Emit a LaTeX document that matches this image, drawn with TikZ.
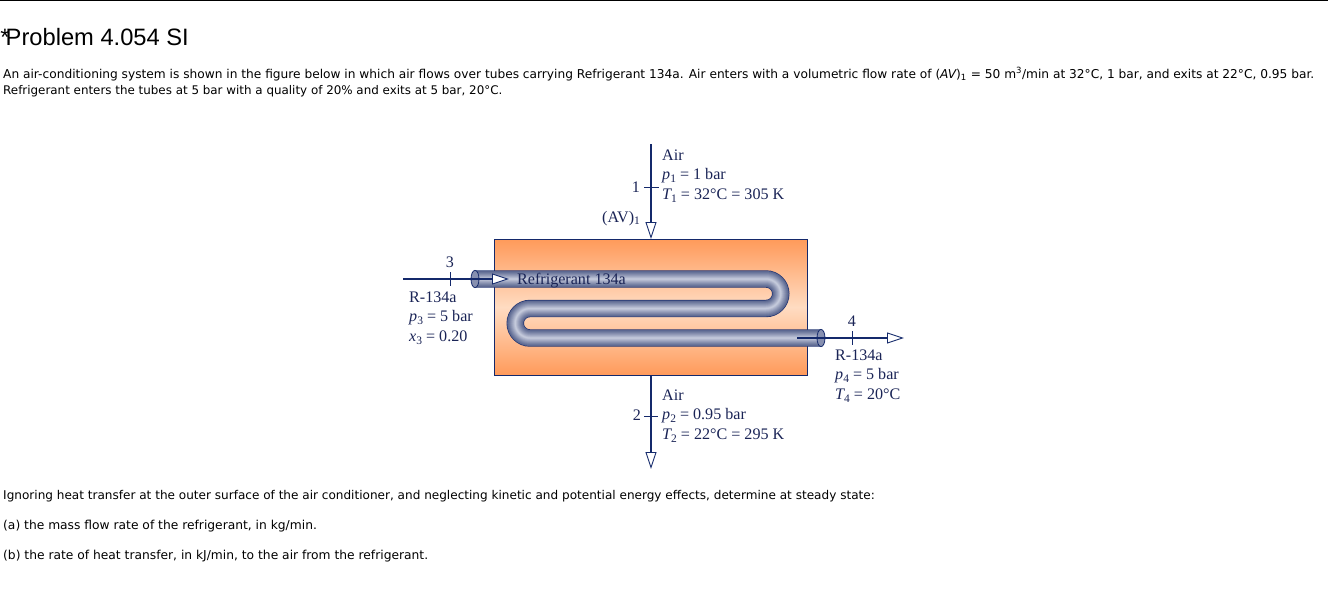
\documentclass[tikz,border=0pt]{standalone}
\usepackage{fontspec}
\setmainfont{Liberation Serif}
\newfontfamily\bodyfont{DejaVu Sans}
\newfontfamily\titlefont{Liberation Sans}
\usetikzlibrary{positioning,arrows.meta}
\definecolor{navy}{HTML}{14296B}
\definecolor{labelink}{HTML}{1A2456}
\definecolor{hotedge}{HTML}{FF9A5A}
\definecolor{hotmid}{HTML}{FFDCC2}
\definecolor{tubedark}{HTML}{5A6690}
\definecolor{tubelight}{HTML}{CBD0E0}
\tikzset{
  x=1pt, y=-1pt, node distance=0pt,
  lbl/.style={inner sep=0pt, text=labelink, text height=13.5pt, text depth=6pt, anchor=base west,
    font=\fontsize{16.1}{16}\selectfont},
  num/.style={inner sep=0pt, text=labelink, anchor=base, font=\fontsize{16.1}{16}\selectfont},
  under/.style={below=of #1.south west, anchor=north west},
  body/.style={inner sep=0pt, anchor=base west, font=\bodyfont\fontsize{#1}{14}\selectfont},
  flow/.style={draw=navy, line width=2pt},
  flowtip/.style={flow, -{Triangle[open, fill=white, length=17pt, width=11pt, line width=0.9pt]}},
  tick/.style={draw=navy, line width=1pt},
}
\newcommand{\tubepath}{(tubein) -- (tubea) arc[start angle=-90, end angle=90, radius=14.75]
  -- (tubeb) arc[start angle=-90, end angle=-270, radius=14.75] -- (tubeout)}
\newcommand{\low}[1]{\raisebox{-0.3ex}{\fontsize{11.5}{11.5}\selectfont #1}}
\newcommand{\subs}[2]{{\itshape #1}\low{#2}}

\begin{document}
\begin{tikzpicture}

    \useasboundingbox (0,0) rectangle (1328,597);

    % Define nodes
    \coordinate (topl) at (0,0.8);
    \coordinate (topr) at (1328,0.8);
    \node[body=12, font=\titlefont\fontsize{23.7}{25}\selectfont] (title) at (0.3,45) {*\kern-4pt Problem 4.054 SI};
    \node[body=12.19] (introa) at (3,78) {An air-conditioning system is shown in the figure below in which air flows over tubes carrying Refrigerant 134a. Air enters with a volumetric flow rate of ({\itshape AV})\textsubscript{1} = 50 m\textsuperscript{3}/min at 32°C, 1 bar, and exits at 22°C, 0.95 bar.};
    \node[body=11.9] (introb) at (3,94) {Refrigerant enters the tubes at 5 bar with a quality of 20\% and exits at 5 bar, 20°C.};
    \node[body=12.06] (ignore) at (3,499) {Ignoring heat transfer at the outer surface of the air conditioner, and neglecting kinetic and potential energy effects, determine at steady state:};
    \node[body=12.28] (parta) at (3,529) {(a) the mass flow rate of the refrigerant, in kg/min.};
    \node[body=12.28] (partb) at (3,559) {(b) the rate of heat transfer, in kJ/min, to the air from the refrigerant.};

    \node[draw=navy, line width=1pt, minimum width=313.5pt, minimum height=136pt, inner sep=0pt,
      top color=hotedge, bottom color=hotedge, middle color=hotmid] (cond) at (651,307.3) {};

    \coordinate (tubein) at (475,279);
    \coordinate (tubea) at (766,279);
    \coordinate (tubeb) at (530,308.5);
    \coordinate (tubeout) at (821,338);

    \coordinate (aira) at (651,144);
    \coordinate (airb) at (651,239);
    \coordinate (airc) at (651,376);
    \coordinate (aird) at (651,469);
    \coordinate (refa) at (403,279);
    \coordinate (refb) at (509,279);
    \coordinate (refc) at (797,338);
    \coordinate (refd) at (904,338);

    \coordinate (tickal) at (644,187);
    \coordinate (tickar) at (659,187);
    \coordinate (tickbl) at (644,416);
    \coordinate (tickbr) at (658,416);
    \coordinate (tickct) at (450,272);
    \coordinate (tickcb) at (450,286);
    \coordinate (tickdt) at (852,331);
    \coordinate (tickdb) at (852,345);

    \node[num] (ptone) at (636,192) {1};
    \node[num] (pttwo) at (637,420) {2};
    \node[num] (ptthree) at (450,267) {3};
    \node[num] (ptfour) at (852,326) {4};
    \node[lbl] (avone) at (602,222) {(AV)\low{1}};

    \node[lbl] (airin) at (662,160) {Air};
    \node[lbl, under=airin] (pone) {\subs{p}{1} = 1 bar};
    \node[lbl, under=pone] (tone) {\subs{T}{1} = 32°C = 305 K};

    \node[lbl] (airout) at (662,400) {Air};
    \node[lbl, under=airout] (ptwo) {\subs{p}{2} = 0.95 bar};
    \node[lbl, under=ptwo] (ttwo) {\subs{T}{2} = 22°C = 295 K};

    \node[lbl] (rin) at (409,302) {R-134a};
    \node[lbl, under=rin] (pthree) {\subs{p}{3} = 5 bar};
    \node[lbl, under=pthree] (xthree) {\subs{x}{3} = 0.20};

    \node[lbl] (rout) at (835,360) {R-134a};
    \node[lbl, under=rout] (pfour) {\subs{p}{4} = 5 bar};
    \node[lbl, under=pfour] (tfour) {\subs{T}{4} = 20°C};

    % Connect the nodes
    \draw[line width=1.2pt] (topl) -- (topr);

    \draw[navy!80!tubedark, line width=17.4pt] \tubepath;
    \foreach \w in {16,15,...,1} {
      \pgfmathsetmacro{\mixval}{100*(1-\w/16)^1.1}
      \draw[tubelight!\mixval!tubedark, line width=\w pt] \tubepath;
    }
    \draw[navy, line width=0.8pt, fill=tubedark!60!tubelight] (tubein) ellipse [x radius=4, y radius=8.6];
    \draw[navy, line width=0.8pt, fill=tubedark!60!tubelight] (tubeout) ellipse [x radius=4, y radius=8.6];

    \draw[flowtip] (aira) -- (airb);
    \draw[flowtip] (airc) -- (aird);
    \draw[flowtip] (refa) -- (refb);
    \draw[flowtip] (refc) -- (refd);

    \draw[tick] (tickal) -- (tickar);
    \draw[tick] (tickbl) -- (tickbr);
    \draw[tick] (tickct) -- (tickcb);
    \draw[tick] (tickdt) -- (tickdb);

    \node[lbl] (reflabel) at (517,284) {Refrigerant 134a};

\end{tikzpicture}
\end{document}
